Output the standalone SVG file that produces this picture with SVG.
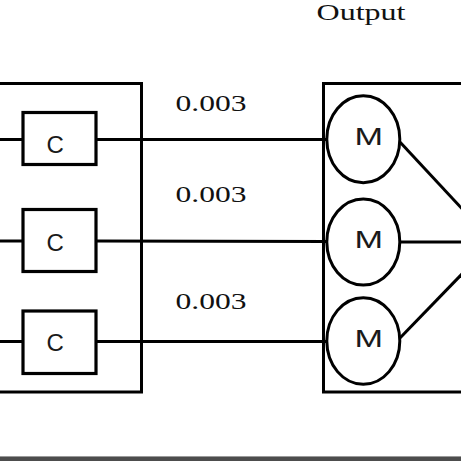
<svg xmlns="http://www.w3.org/2000/svg" width="461" height="461" viewBox="0 0 461 461">
<style>
.frame{fill:none;stroke:#000;stroke-width:3}
.box{fill:#fff;stroke:#000;stroke-width:3.2}
.node{fill:#fff;stroke:#000;stroke-width:3}
.wire{fill:none;stroke:#000;stroke-width:3}
.lbl{font-family:"Liberation Sans",Arial,sans-serif;font-size:24px;fill:#1a1a1a}
.num{font-family:"Liberation Serif","Times New Roman",serif;font-size:24px;fill:#111}
</style>
<rect width="461" height="461" fill="#fff"/>
<g id="connectors">
<line class="wire" x1="-5" y1="139.5" x2="23" y2="139.5"/>
<line class="wire" x1="96" y1="139.5" x2="327" y2="139.5"/>
<line class="wire" x1="-5" y1="241" x2="23" y2="241"/>
<line class="wire" x1="96" y1="241" x2="327" y2="241.5"/>
<line class="wire" x1="-5" y1="341.5" x2="23" y2="341.5"/>
<line class="wire" x1="96" y1="341.5" x2="327" y2="341.5"/>
<line class="wire" x1="399" y1="141" x2="493" y2="242"/>
<line class="wire" x1="400" y1="242" x2="470" y2="242"/>
<line class="wire" x1="399" y1="339" x2="493" y2="242"/>
</g>
<g id="input-layer">
<rect class="frame" x="-10" y="83.5" width="151.5" height="308.5"/>
</g>
<g id="output-layer">
<rect class="frame" x="323.5" y="83.5" width="160" height="308.5"/>
</g>
<g id="c1"><rect class="box" x="23" y="112.5" width="73" height="52"/><text class="lbl" x="46.5" y="152.5" font-size="25">C</text></g>
<g id="c2"><rect class="box" x="23" y="209.5" width="73" height="62"/><text class="lbl" x="46.5" y="250.5" font-size="25">C</text></g>
<g id="c3"><rect class="box" x="23" y="311" width="73" height="62.5"/><text class="lbl" x="46.5" y="350.5" font-size="25">C</text></g>
<g id="m1"><ellipse class="node" cx="363.3" cy="139.3" rx="36.5" ry="43.5"/><text class="lbl" x="354.5" y="145" textLength="28.5" lengthAdjust="spacingAndGlyphs" font-size="23">M</text></g>
<g id="m2"><ellipse class="node" cx="363.3" cy="242" rx="36.5" ry="43"/><text class="lbl" x="354.5" y="248.3" textLength="28.5" lengthAdjust="spacingAndGlyphs" font-size="23">M</text></g>
<g id="m3"><ellipse class="node" cx="363.3" cy="341" rx="36.5" ry="43.3"/><text class="lbl" x="354.5" y="346.5" textLength="28.5" lengthAdjust="spacingAndGlyphs" font-size="23">M</text></g>
<g id="labels">
<text class="num" x="175.5" y="110.5" textLength="71" lengthAdjust="spacingAndGlyphs">0.003</text>
<text class="num" x="175.5" y="201.5" textLength="71" lengthAdjust="spacingAndGlyphs">0.003</text>
<text class="num" x="175.5" y="309" textLength="71" lengthAdjust="spacingAndGlyphs">0.003</text>
<text class="num" x="316.5" y="20" font-size="21" textLength="89" lengthAdjust="spacingAndGlyphs">Output</text>
</g>
<rect x="0" y="456" width="461" height="1" fill="#9a9a9a"/>
<rect x="0" y="457" width="461" height="4" fill="#4d4d4d"/>
</svg>
